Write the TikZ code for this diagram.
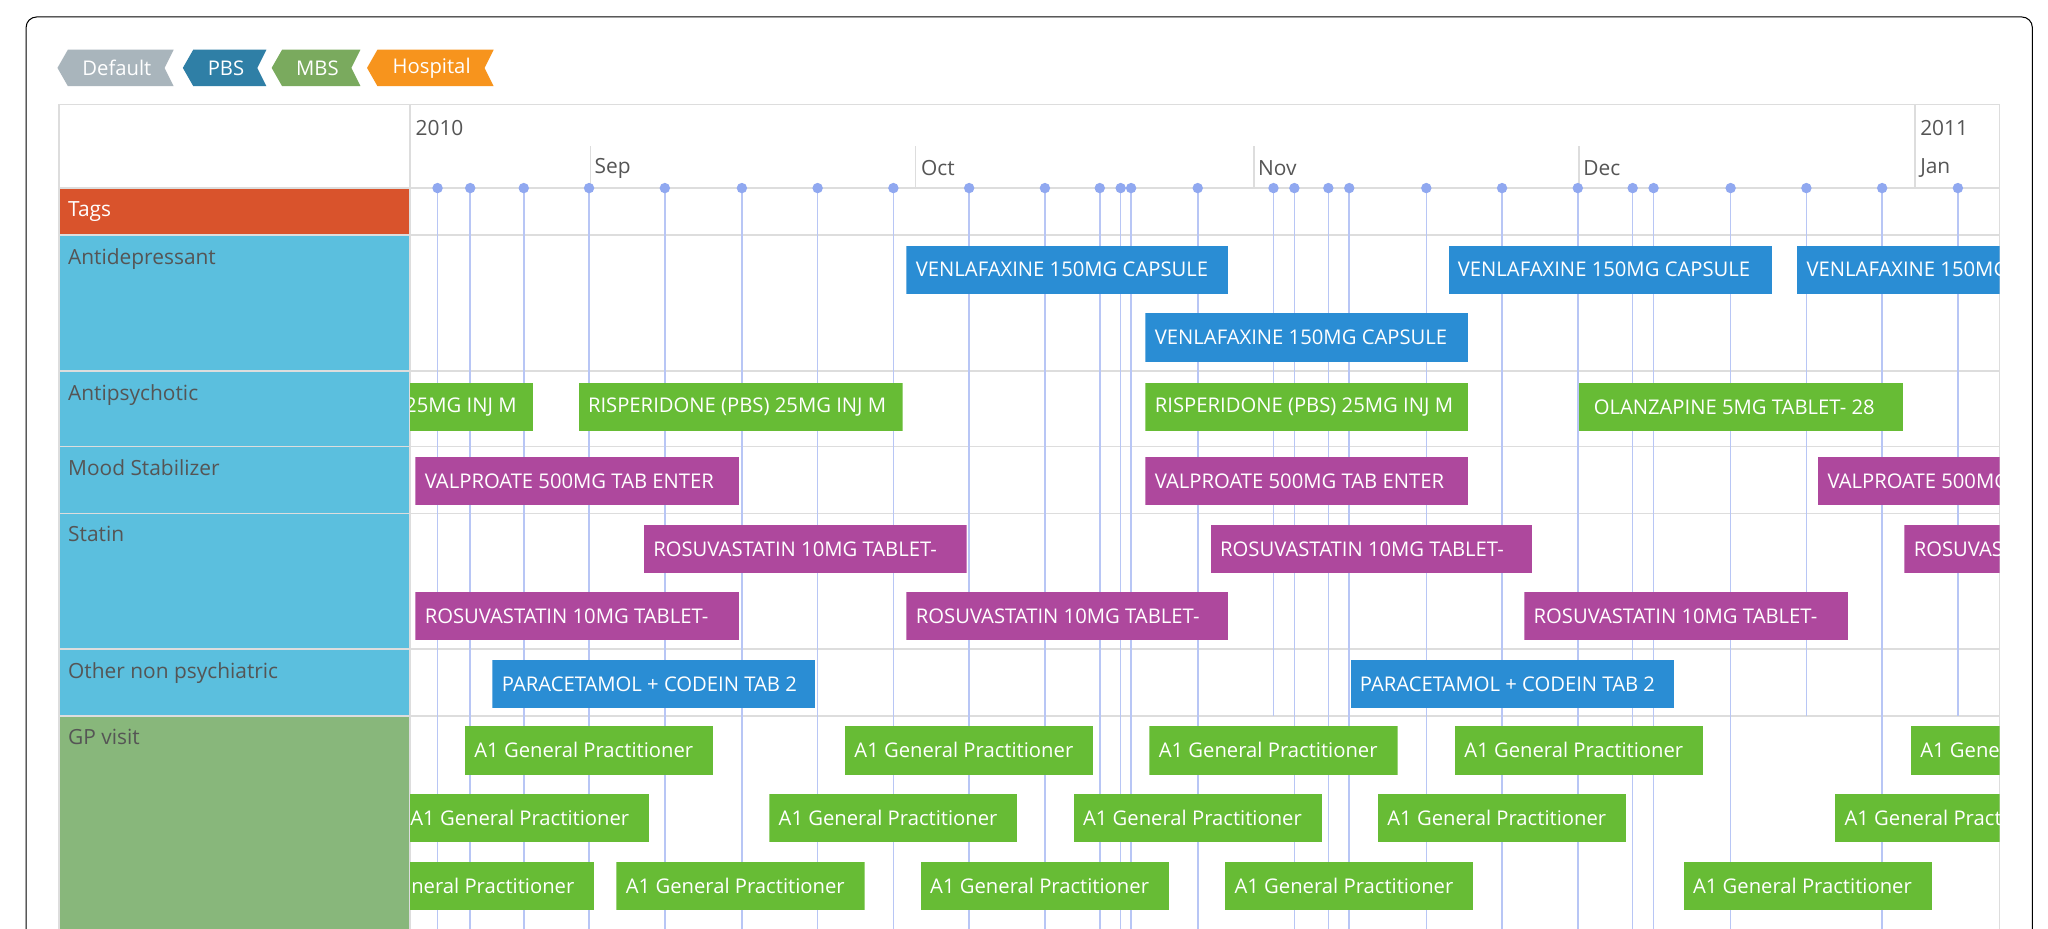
\documentclass[tikz,border=0pt]{standalone}
\usepackage{fontspec}
\setmainfont{Open Sans}
\definecolor{gridc}{HTML}{DDDDDD}
\definecolor{vlc}{HTML}{B8C6F5}
\definecolor{dotc}{HTML}{90A8F0}
\definecolor{lblc}{HTML}{5BBFDE}
\definecolor{gpc}{HTML}{88B77B}
\definecolor{tagc}{HTML}{D9532C}
\definecolor{bblue}{HTML}{2A8DD4}
\definecolor{bgreen}{HTML}{67BC35}
\definecolor{bmag}{HTML}{AE489D}
\definecolor{txtc}{HTML}{555555}
\definecolor{tdefc}{HTML}{A9B5BC}
\definecolor{tpbsc}{HTML}{2F7FA6}
\definecolor{tmbsc}{HTML}{7AAA5E}
\definecolor{thosc}{HTML}{F7941D}
\tikzset{
  rowlabel/.style={anchor=north west,font=\fontsize{16}{18}\selectfont,text=txtc,inner sep=0pt},
  bartext/.style={anchor=west,font=\fontsize{15.5}{17}\selectfont,text=white,inner sep=0pt},
  hdr/.style={anchor=west,font=\fontsize{16}{18}\selectfont,text=txtc,inner sep=0pt},
  tagtext/.style={font=\fontsize{15.5}{17}\selectfont,text=white,inner sep=0pt}
}
% visible x1, visible x2, text start x, top y, colour, text
\newcommand{\tlbar}[6]{%
  \begin{scope}
    \clip (#1,#4) rectangle (#2,#4+37);
    \fill[#5] (#1,#4) rectangle (#2,#4+37);
    \node[bartext] at (#3+7,#4+18.5) {#6};
  \end{scope}}
\newcommand{\tagbtn}[5]{%
  \fill[#3] (#1,52) -- (#1+8,38) -- (#2,38) -- (#2-7,52) -- (#2,66) -- (#1+8,66) -- cycle;
  \node[tagtext] (#5) at ({(#1+#2)/2+1},52) {#4};}
\begin{document}
\begin{tikzpicture}[x=1pt,y=-1pt]
\clip (0,0) rectangle (1568,711);
\fill[white] (0,0) rectangle (1568,711);
\draw[black,line width=0.8,rounded corners=8] (20,740) -- (20,13) -- (1556,13) -- (1556,740);
% tags
\tagbtn{44}{133}{tdefc}{Default}{tdef}
\tagbtn{140}{204}{tpbsc}{PBS}{tpbs}
\tagbtn{208}{276}{tmbsc}{MBS}{tmbs}
\tagbtn{281}{378}{thosc}{Hospital}{thos}
% label column fills
\fill[tagc] (45,144) rectangle (314,180);
\fill[lblc] (45,180) rectangle (314,548);
\fill[gpc] (45,548) rectangle (314,711);
% grid
\draw[gridc,line width=1.2] (45,80) rectangle (1531,720);
\draw[gridc,line width=1.2] (314,80) -- (314,720);
\foreach \y in {144,180,284,342,393,497,548} \draw[gridc,line width=1.2] (45,\y) -- (1531,\y);
\draw[gridc,line width=1.2] (1466,80) -- (1466,144);
\foreach \x in {452,701,960,1209} \draw[gridc,line width=1] (\x,112) -- (\x,144);
\node[hdr] (y10) at (318,98) {2010};
\node[hdr] (y11) at (1470,98) {2011};
\node[hdr] (msep) at (455,129) {Sep};
\node[hdr] (moct) at (705,129) {Oct};
\node[hdr] (mnov) at (963,129) {Nov};
\node[hdr] (mdec) at (1212,129) {Dec};
\node[hdr] (mjan) at (1470,129) {Jan};
% row labels
\node[rowlabel,text=white] (ltags) at (52,154) {Tags};
\node[rowlabel] (lad) at (52,190) {Antidepressant};
\node[rowlabel] (lap) at (52,294) {Antipsychotic};
\node[rowlabel] (lms) at (52,352) {Mood Stabilizer};
\node[rowlabel] (lst) at (52,403) {Statin};
\node[rowlabel] (lot) at (52,507) {Other non psychiatric};
\node[rowlabel] (lgp) at (52,558) {GP visit};
% vertical event lines
\foreach \x in {335,360,401,451,509,568,626,684,742,800,842,858,866,917,991,1017,1033,1092,1150,1208,1250,1266,1325,1441}
  \draw[vlc,line width=1.2] (\x,144) -- (\x,711);
\foreach \x in {975,1383,1499}
  \draw[vlc,line width=1.2] (\x,144) -- (\x,548);
\foreach \x in {335,360,401,451,509,568,626,684,742,800,842,858,866,917,975,991,1017,1033,1092,1150,1208,1250,1266,1325,1383,1441,1499}
  \fill[dotc] (\x,144) circle (4);
% bars
\tlbar{694}{940}{694}{188}{bblue}{VENLAFAXINE 150MG CAPSULE}
\tlbar{1109}{1357}{1109}{188}{bblue}{VENLAFAXINE 150MG CAPSULE}
\tlbar{1376}{1531}{1376}{188}{bblue}{VENLAFAXINE 150MG CAPSULE}
\tlbar{877}{1124}{877}{240}{bblue}{VENLAFAXINE 150MG CAPSULE}
\tlbar{314}{408}{160}{293}{bgreen}{RISPERIDONE (PBS) 25MG INJ M}
\tlbar{443}{691}{443}{293}{bgreen}{RISPERIDONE (PBS) 25MG INJ M}
\tlbar{877}{1124}{877}{293}{bgreen}{RISPERIDONE (PBS) 25MG INJ M}
\tlbar{1209}{1457}{1209}{293}{bgreen}{\hspace{4pt}OLANZAPINE 5MG TABLET- 28}
\tlbar{318}{566}{318}{350}{bmag}{VALPROATE 500MG TAB ENTER}
\tlbar{877}{1124}{877}{350}{bmag}{VALPROATE 500MG TAB ENTER}
\tlbar{1392}{1531}{1392}{350}{bmag}{VALPROATE 500MG TAB ENTER}
\tlbar{493}{740}{493}{402}{bmag}{ROSUVASTATIN 10MG TABLET-}
\tlbar{927}{1173}{927}{402}{bmag}{ROSUVASTATIN 10MG TABLET-}
\tlbar{1458}{1531}{1458}{402}{bmag}{ROSUVASTATIN 10MG TABLET-}
\tlbar{318}{566}{318}{453}{bmag}{ROSUVASTATIN 10MG TABLET-}
\tlbar{694}{940}{694}{453}{bmag}{ROSUVASTATIN 10MG TABLET-}
\tlbar{1167}{1415}{1167}{453}{bmag}{ROSUVASTATIN 10MG TABLET-}
\tlbar{377}{624}{377}{505}{bblue}{PARACETAMOL + CODEIN TAB 2}
\tlbar{1034}{1282}{1034}{505}{bblue}{PARACETAMOL + CODEIN TAB 2}
\tlbar{356}{546}{356}{556}{bgreen}{A1 General Practitioner}
\tlbar{647}{837}{647}{556}{bgreen}{A1 General Practitioner}
\tlbar{880}{1070}{880}{556}{bgreen}{A1 General Practitioner}
\tlbar{1114}{1304}{1114}{556}{bgreen}{A1 General Practitioner}
\tlbar{1463}{1531}{1463}{556}{bgreen}{A1 General Practitioner}
\tlbar{314}{497}{307}{608}{bgreen}{A1 General Practitioner}
\tlbar{589}{779}{589}{608}{bgreen}{A1 General Practitioner}
\tlbar{822}{1012}{822}{608}{bgreen}{A1 General Practitioner}
\tlbar{1055}{1245}{1055}{608}{bgreen}{A1 General Practitioner}
\tlbar{1405}{1531}{1405}{608}{bgreen}{A1 General Practitioner}
\tlbar{314}{455}{265}{660}{bgreen}{A1 General Practitioner}
\tlbar{472}{662}{472}{660}{bgreen}{A1 General Practitioner}
\tlbar{705}{895}{705}{660}{bgreen}{A1 General Practitioner}
\tlbar{938}{1128}{938}{660}{bgreen}{A1 General Practitioner}
\tlbar{1289}{1479}{1289}{660}{bgreen}{A1 General Practitioner}
\end{tikzpicture}
\end{document}
